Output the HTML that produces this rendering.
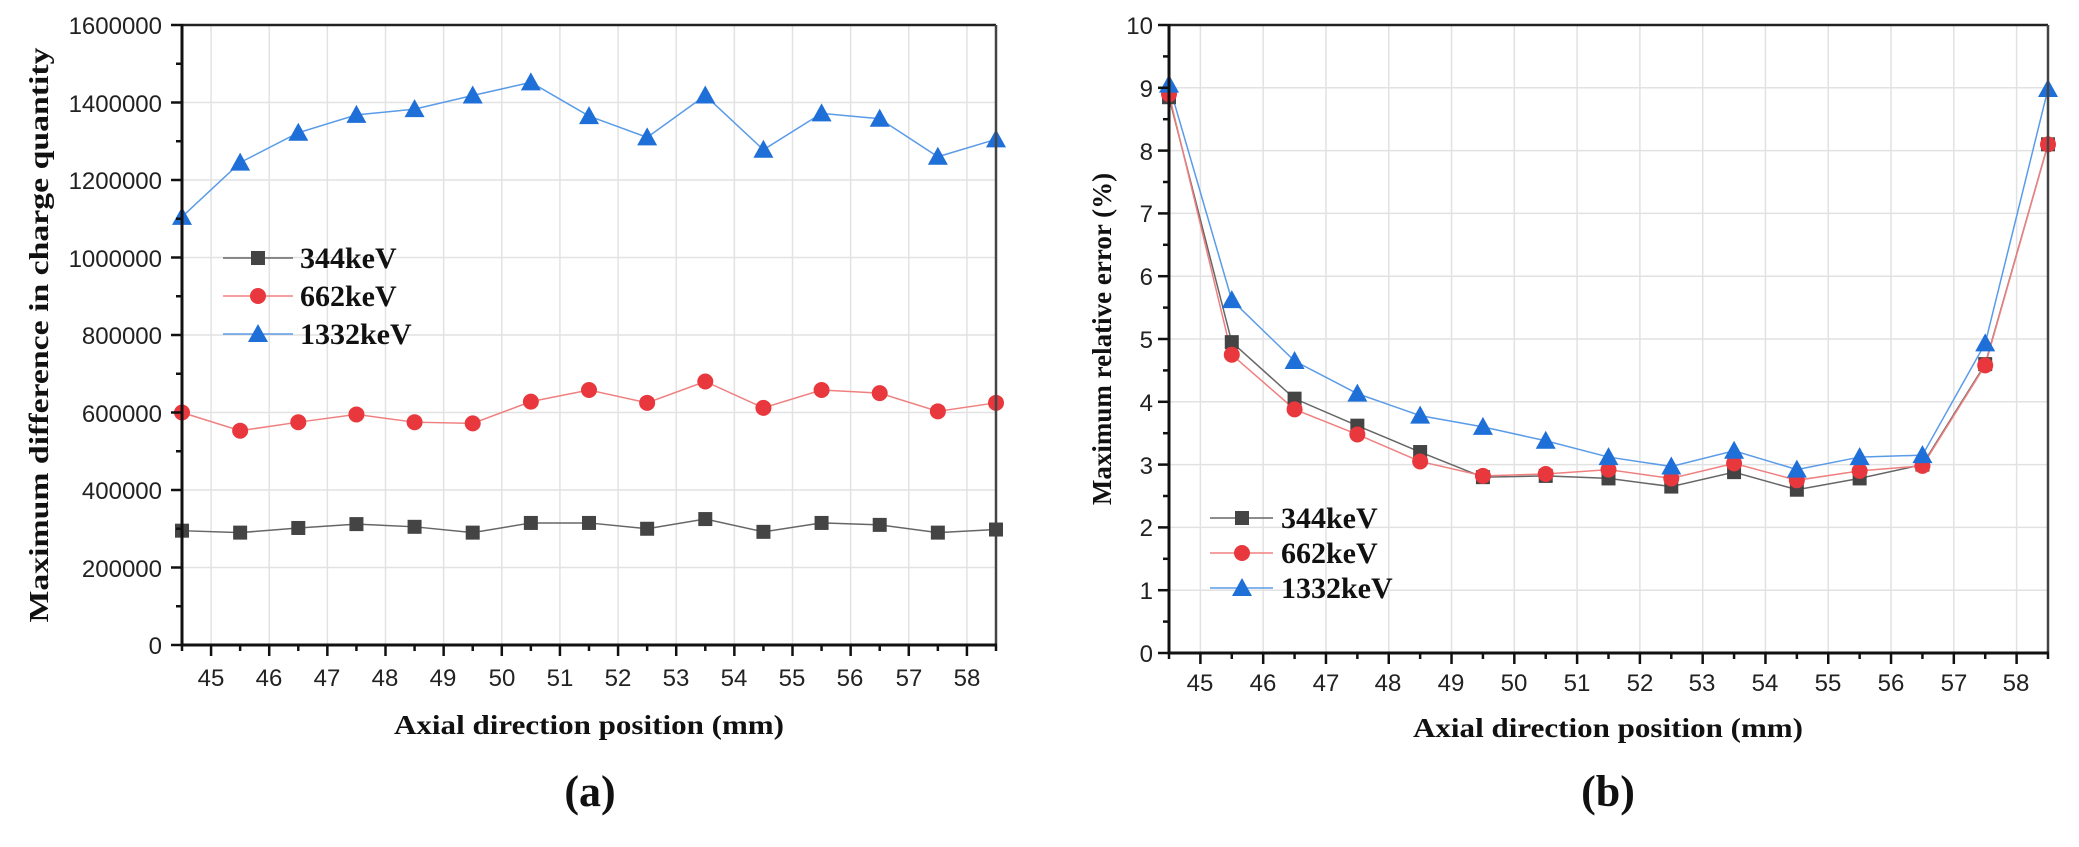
<!DOCTYPE html>
<html><head><meta charset="utf-8"><style>
html,body{margin:0;padding:0;background:#fff;}
svg{display:block;}
.t{font-family:"Liberation Sans",Arial,sans-serif;font-size:24px;fill:#222;}
.b{font-family:"Liberation Serif","Times New Roman",serif;font-weight:bold;fill:#111;}
</style></head><body>
<svg id="s" width="2079" height="847" viewBox="0 0 2079 847" xmlns="http://www.w3.org/2000/svg">
<g id="grid"></g>
<g id="data"></g>
<g id="axes"></g>
<!-- left ticks labels -->
<g class="t" text-anchor="end">
<text x="162" y="34">1600000</text>
<text x="162" y="112">1400000</text>
<text x="162" y="189">1200000</text>
<text x="162" y="267">1000000</text>
<text x="162" y="344">800000</text>
<text x="162" y="422">600000</text>
<text x="162" y="499">400000</text>
<text x="162" y="577">200000</text>
<text x="162" y="654">0</text>
</g>
<g class="t" text-anchor="middle">
<text x="211" y="686">45</text><text x="269" y="686">46</text><text x="327" y="686">47</text><text x="385" y="686">48</text><text x="443" y="686">49</text><text x="502" y="686">50</text><text x="560" y="686">51</text><text x="618" y="686">52</text><text x="676" y="686">53</text><text x="734" y="686">54</text><text x="792" y="686">55</text><text x="850" y="686">56</text><text x="909" y="686">57</text><text x="967" y="686">58</text>
</g>
<g class="t" text-anchor="end">
<text x="1153" y="34">10</text>
<text x="1153" y="97">9</text>
<text x="1153" y="160">8</text>
<text x="1153" y="222">7</text>
<text x="1153" y="285">6</text>
<text x="1153" y="348">5</text>
<text x="1153" y="411">4</text>
<text x="1153" y="474">3</text>
<text x="1153" y="536">2</text>
<text x="1153" y="599">1</text>
<text x="1153" y="662">0</text>
</g>
<g class="t" text-anchor="middle">
<text x="1200" y="691">45</text><text x="1263" y="691">46</text><text x="1326" y="691">47</text><text x="1388" y="691">48</text><text x="1451" y="691">49</text><text x="1514" y="691">50</text><text x="1577" y="691">51</text><text x="1640" y="691">52</text><text x="1702" y="691">53</text><text x="1765" y="691">54</text><text x="1828" y="691">55</text><text x="1891" y="691">56</text><text x="1954" y="691">57</text><text x="2016" y="691">58</text>
</g>
<text class="b" x="589" y="734" font-size="27" text-anchor="middle" textLength="390" lengthAdjust="spacingAndGlyphs">Axial direction position (mm)</text>
<text class="b" x="1608" y="737" font-size="27" text-anchor="middle" textLength="390" lengthAdjust="spacingAndGlyphs">Axial direction position (mm)</text>
<text class="b" font-size="27" text-anchor="middle" transform="translate(48,335) rotate(-90)" textLength="575" lengthAdjust="spacingAndGlyphs">Maximum difference in charge quantity</text>
<text class="b" font-size="27" text-anchor="middle" transform="translate(1111,339) rotate(-90)">Maximum relative error (%)</text>
<text class="b" x="590" y="806" font-size="44" text-anchor="middle">(a)</text>
<text class="b" x="1608" y="806" font-size="44" text-anchor="middle">(b)</text>
<g class="b" font-size="30">
<text x="300" y="268">344keV</text>
<text x="300" y="306">662keV</text>
<text x="300" y="344">1332keV</text>
<text x="1281" y="528">344keV</text>
<text x="1281" y="563">662keV</text>
<text x="1281" y="598">1332keV</text>
</g>
<g id="leg"></g>
</svg>
<script>
var NS="http://www.w3.org/2000/svg";
function el(p,n,a){var e=document.createElementNS(NS,n);for(var k in a)e.setAttribute(k,a[k]);document.getElementById(p).appendChild(e);return e;}
var C=[{l:"#666",f:"#444"},{l:"#f08080",f:"#e8383d"},{l:"#5a9be8",f:"#1f6fd8"}];
function marker(p,i,x,y){
 if(i==0)el(p,"rect",{x:x-7,y:y-7,width:14,height:14,fill:C[0].f});
 else if(i==1)el(p,"circle",{cx:x,cy:y,r:8,fill:C[1].f});
 else el(p,"polygon",{points:(x-10)+","+(y+8)+" "+(x+10)+","+(y+8)+" "+x+","+(y-10),fill:C[2].f});
}
function plot(P){
 var X=function(v){return P.x0+(v-44.5)*(P.x1-P.x0)/14;};
 var Y=function(v){return P.y1-(v-P.ymin)*(P.y1-P.y0)/(P.ymax-P.ymin);};
 for(var v=45;v<=58;v++)el("grid","line",{x1:X(v),x2:X(v),y1:P.y0,y2:P.y1,stroke:"#e2e2e2","stroke-width":1.5});
 for(var k=1;k<P.nmaj;k++){var yy=P.y0+k*(P.y1-P.y0)/P.nmaj;el("grid","line",{x1:P.x0,x2:P.x1,y1:yy,y2:yy,stroke:"#e2e2e2","stroke-width":1.5});}
 P.d.forEach(function(s,i){
  var pts=s.map(function(v,j){return X(44.5+j)+","+Y(v);}).join(" ");
  el("data","polyline",{points:pts,fill:"none",stroke:C[i].l,"stroke-width":1.5});
 });
 P.d.forEach(function(s,i){s.forEach(function(v,j){marker("data",i,X(44.5+j),Y(v));});});
 el("axes","line",{x1:P.x0,x2:P.x1,y1:P.y0,y2:P.y0,stroke:"#222","stroke-width":2.5});
 el("axes","line",{x1:P.x1,x2:P.x1,y1:P.y0,y2:P.y1,stroke:"#444","stroke-width":2.5});
 el("axes","line",{x1:P.x0,x2:P.x0,y1:P.y0-1,y2:P.y1+1.5,stroke:"#111","stroke-width":3});
 el("axes","line",{x1:P.x0-1.5,x2:P.x1+1,y1:P.y1,y2:P.y1,stroke:"#111","stroke-width":3});
 for(var v=44.5;v<=58.51;v+=0.5){var big=(v%1==0);el("axes","line",{x1:X(v),x2:X(v),y1:P.y1,y2:P.y1+(big?11:6),stroke:"#111","stroke-width":2.5});}
 for(var k=0;k<=2*P.nmaj;k++){var yy=P.y0+k*(P.y1-P.y0)/(2*P.nmaj);el("axes","line",{x1:P.x0,x2:P.x0-(k%2?6:11),y1:yy,y2:yy,stroke:"#111","stroke-width":2.5});}
}
plot({x0:182,x1:996,y0:25,y1:645,ymin:0,ymax:1600000,nmaj:8,d:[
[295,290,302,312,305,290,315,315,300,325,292,315,310,290,298].map(function(v){return v*1000;}),
[600,553,575,595,575,572,628,658,625,680,612,658,650,603,625].map(function(v){return v*1000;}),
[1105,1245,1322,1368,1383,1418,1452,1365,1310,1418,1278,1372,1358,1260,1305].map(function(v){return v*1000;})]});
plot({x0:1169,x1:2048,y0:25,y1:653,ymin:0,ymax:10,nmaj:10,d:[
[8.85,4.95,4.05,3.62,3.2,2.8,2.82,2.78,2.65,2.88,2.6,2.78,3.0,4.6,8.1],
[8.9,4.75,3.88,3.48,3.05,2.82,2.85,2.92,2.78,3.02,2.75,2.9,2.98,4.58,8.1],
[9.05,5.62,4.65,4.13,3.78,3.6,3.38,3.12,2.97,3.22,2.92,3.12,3.15,4.93,8.98]]});
[[223,293,258,258],[1210,1273,1242,518]].forEach(function(L){
 for(var i=0;i<3;i++){var y=L[3]+i*(L===undefined?0:(L[0]==223?38:35));
  el("leg","line",{x1:L[0],x2:L[1],y1:y,y2:y,stroke:C[i].l,"stroke-width":1.5});marker("leg",i,L[2],y);}
});
</script>
</body></html>
